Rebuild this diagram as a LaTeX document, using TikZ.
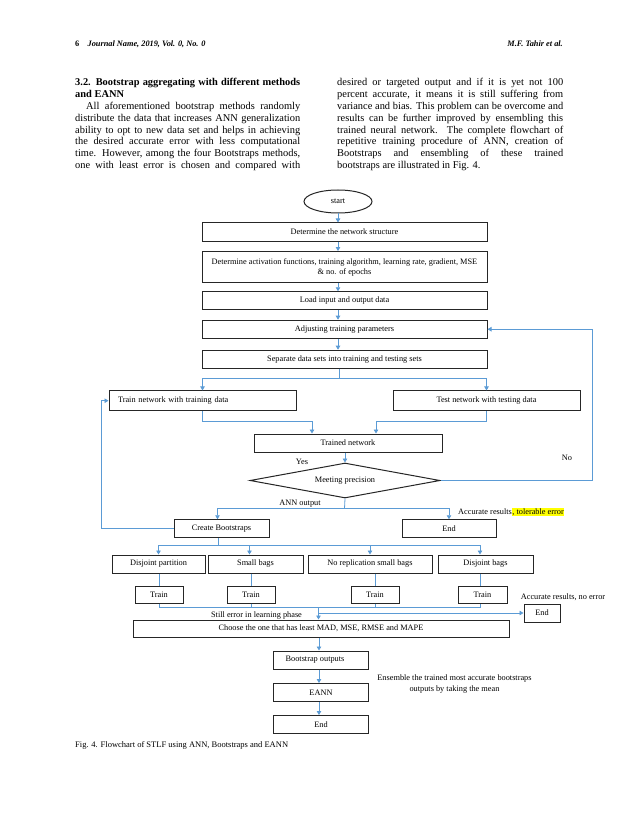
\documentclass[tikz,border=0pt]{standalone}
\usepackage{fontspec}
\setmainfont{Liberation Serif}
\usetikzlibrary{arrows.meta,shapes.geometric,calc}
\definecolor{flow}{HTML}{5B9BD5}
\definecolor{hl}{HTML}{FFFF00}
\begin{document}
\begin{tikzpicture}[x=1pt,y=-1pt,
  box/.style={draw=black!85, line width=1pt, inner sep=0pt, align=center, font=\fontsize{8.3}{10}\selectfont},
  lbl/.style={inner sep=0pt, font=\fontsize{8.3}{10}\selectfont},
  line/.style={draw=flow, line width=0.8pt},
  arr/.style={line, -{Triangle[width=4.5pt,length=4pt]}},
  body/.style={inner sep=0pt, anchor=base west, font=\fontsize{10.4}{11.8}\selectfont},
  hdr/.style={inner sep=0pt, font=\fontsize{8.3}{10}\selectfont\bfseries\itshape},
]
\useasboundingbox[fill=white] (0,0) rectangle (638,826);

% header
\node[hdr, anchor=base west] (hl) at (75,47) {{\upshape 6}\quad Journal Name, 2019, Vol. 0, No. 0};
\node[hdr, anchor=base east] (hr) at (563,47) {M.F. Tahir et al.};

% left column
\node[body] (L1) at (75,86) {\makebox[225pt][s]{\bfseries 3.2. Bootstrap aggregating with different methods}};
\node[body] (L2) at (75,97.8) {\bfseries and EANN};
\node[body] (L3) at (75,109.6) {\makebox[225pt][s]{\hspace*{11pt}All aforementioned bootstrap methods randomly}};
\node[body] (L4) at (75,121.4) {\makebox[225pt][s]{distribute the data that increases ANN generalization}};
\node[body] (L5) at (75,133.2) {\makebox[225pt][s]{ability to opt to new data set and helps in achieving}};
\node[body] (L6) at (75,145) {\makebox[225pt][s]{the desired accurate error with less computational}};
\node[body] (L7) at (75,156.8) {\makebox[225pt][s]{time. However, among the four Bootstraps methods,}};
\node[body] (L8) at (75,168.6) {\makebox[225pt][s]{one with least error is chosen and compared with}};

% right column
\node[body] (R1) at (337,86) {\makebox[226pt][s]{desired or targeted output and if it is yet not 100}};
\node[body] (R2) at (337,97.8) {\makebox[226pt][s]{percent accurate, it means it is still suffering from}};
\node[body] (R3) at (337,109.6) {\makebox[226pt][s]{variance and bias. This problem can be overcome and}};
\node[body] (R4) at (337,121.4) {\makebox[226pt][s]{results can be further improved by ensembling this}};
\node[body] (R5) at (337,133.2) {\makebox[226pt][s]{trained neural network. The complete flowchart of}};
\node[body] (R6) at (337,145) {\makebox[226pt][s]{repetitive training procedure of ANN, creation of}};
\node[body] (R7) at (337,156.8) {\makebox[226pt][s]{Bootstraps and ensembling of these trained}};
\node[body] (R8) at (337,168.6) {bootstraps are illustrated in Fig. 4.};

% flowchart nodes
\node[box, ellipse, minimum width=68pt, minimum height=23pt] (start) at (338,201.5) {start};
\node[box, minimum width=285pt, minimum height=18pt] (b1) at (344.5,232) {Determine the network structure};
\node[box, minimum width=285pt, minimum height=31pt] (b2) at (344.5,267) {Determine activation functions, training algorithm, learning rate, gradient, MSE\\ \& no. of epochs};
\node[box, minimum width=285pt, minimum height=17.5pt] (b3) at (344.5,300.5) {Load input and output data};
\node[box, minimum width=285pt, minimum height=18pt] (b4) at (344.5,329.2) {Adjusting training parameters};
\node[box, minimum width=285pt, minimum height=18pt] (b5) at (344.5,359.2) {Separate data sets into training and testing sets};
\node[box, text width=187pt, minimum height=19.5pt, align=left] (train) at (202.5,400.7) {\hspace*{9pt}Train network with training data};
\node[box, minimum width=187pt, minimum height=19.5pt] (test) at (486.5,400.7) {Test network with testing data};
\node[box, minimum width=188pt, minimum height=18pt] (trained) at (348,443) {Trained network};
\node[box, diamond, aspect=5.5, minimum width=190pt, minimum height=35pt] (dia) at (345,480.5) {Meeting precision};
\node[box, minimum width=95pt, minimum height=17.5pt] (cb) at (221.5,528.5) {Create Bootstraps};
\node[box, minimum width=94pt, minimum height=17.5pt] (end1) at (449,528.5) {End};
\node[box, minimum width=93pt, minimum height=18pt] (dp) at (158.5,564) {Disjoint partition};
\node[box, minimum width=95pt, minimum height=18pt] (sb) at (255.5,564) {Small bags};
\node[box, minimum width=124pt, minimum height=18pt] (nr) at (370,564) {No replication small bags};
\node[box, minimum width=95pt, minimum height=18pt] (db) at (485.5,564) {Disjoint bags};
\node[box, minimum width=48pt, minimum height=17pt] (t1) at (159,594.5) {Train};
\node[box, minimum width=48pt, minimum height=17pt] (t2) at (251,594.5) {Train};
\node[box, minimum width=48pt, minimum height=17pt] (t3) at (375,594.5) {Train};
\node[box, minimum width=49pt, minimum height=17pt] (t4) at (482.5,594.5) {Train};
\node[box, minimum width=36pt, minimum height=18pt] (end2) at (542,613) {End};
\node[box, minimum width=376pt, minimum height=17pt] (choose) at (321,628.5) {Choose the one that has least MAD, MSE, RMSE and MAPE};
\node[box, minimum width=95pt, minimum height=18pt] (bo) at (321,660) {\hspace*{-12pt}Bootstrap outputs};
\node[box, minimum width=95pt, minimum height=18pt] (eann) at (321,692.5) {EANN};
\node[box, minimum width=95pt, minimum height=18pt] (end3) at (321,724.5) {End};

% labels
\node[lbl] (yes) at (302,462) {Yes};
\node[lbl] (no) at (567,458) {No};
\node[lbl] (annout) at (300,504) {ANN output};
\node[lbl, anchor=west] (acc1) at (458,512) {Accurate results{\setlength{\fboxsep}{0.5pt}\colorbox{hl}{, tolerable error}}};
\node[lbl] (acc2) at (563,597) {Accurate results, no error};
\node[lbl] (still) at (256.5,616) {Still error in learning phase};
\node[lbl, align=center, font=\fontsize{8.3}{11.1}\selectfont] (ens) at (454.5,684) {Ensemble the trained most accurate bootstraps\\outputs by taking the mean};

% caption
\node[inner sep=0pt, anchor=base west, font=\fontsize{8.5}{10}\selectfont] (cap) at (75,747) {Fig. 4. Flowchart of STLF using ANN, Bootstraps and EANN};

% connectors
\draw[arr] (start.south) -- (start.south |- b1.north);
\draw[arr] (start.south |- b1.south) -- (start.south |- b2.north);
\draw[arr] (start.south |- b2.south) -- (start.south |- b3.north);
\draw[arr] (start.south |- b3.south) -- (start.south |- b4.north);
\draw[arr] (start.south |- b4.south) -- (start.south |- b5.north);
\coordinate (s1) at (339,378);
\draw[line] (s1 |- b5.south) -- (s1);
\draw[arr] (s1) -| (train.north);
\draw[arr] (s1) -| (test.north);
\coordinate (j1) at (312,421);
\coordinate (j2) at (376,421);
\draw[arr] (train.south) |- (j1) -- (j1 |- trained.north);
\draw[arr] (test.south) |- (j2) -- (j2 |- trained.north);
\draw[arr] (dia.north |- trained.south) -- (dia.north);
\coordinate (r1) at (592,480.5);
\draw[arr] (dia.east) -- (r1) |- (b4.east);
\coordinate (s2) at (344.5,508.5);
\draw[line] (dia.south) -- (s2);
\draw[arr] (s2) -| ([xshift=-4pt]cb.north);
\draw[arr] (s2) -| (end1.north);
\coordinate (l1) at (101,528.5);
\draw[arr] (cb.west) -- (l1) |- (train.west);
\coordinate (s3) at (218.5,545);
\draw[line] (s3 |- cb.south) -- (s3);
\draw[arr] (s3) -| (dp.north);
\draw[arr] (s3) -| ([xshift=-6pt]sb.north);
\draw[arr] (s3) -| (nr.north);
\draw[arr] (s3) -| ([xshift=-5.5pt]db.north);
\draw[line] (t1.north |- dp.south) -- (t1.north);
\draw[line] (t2.north |- sb.south) -- (t2.north);
\draw[line] (t3.north |- nr.south) -- (t3.north);
\draw[line] ([xshift=-2.5pt]t4.north |- db.south) -- ([xshift=-2.5pt]t4.north);
\coordinate (c1) at (0,607);
\draw[line] (t1.south) -- (t1.south |- c1) -- ([xshift=-2.5pt]t4.south |- c1) -- ([xshift=-2.5pt]t4.south);
\draw[line] (t2.south) -- (t2.south |- c1);
\draw[line] (t3.south) -- (t3.south |- c1);
\coordinate (c2) at (318.5,607);
\draw[arr] (c2) -- (c2 |- choose.north);
\draw[arr] (c2 |- end2.west) -- (end2.west);
\draw[arr] ([xshift=-2pt]bo.north |- choose.south) -- ([xshift=-2pt]bo.north);
\draw[arr] ([xshift=-2pt]bo.south) -- ([xshift=-2pt]eann.north);
\draw[arr] ([xshift=-2pt]eann.south) -- ([xshift=-2pt]end3.north);
\end{tikzpicture}
\end{document}
